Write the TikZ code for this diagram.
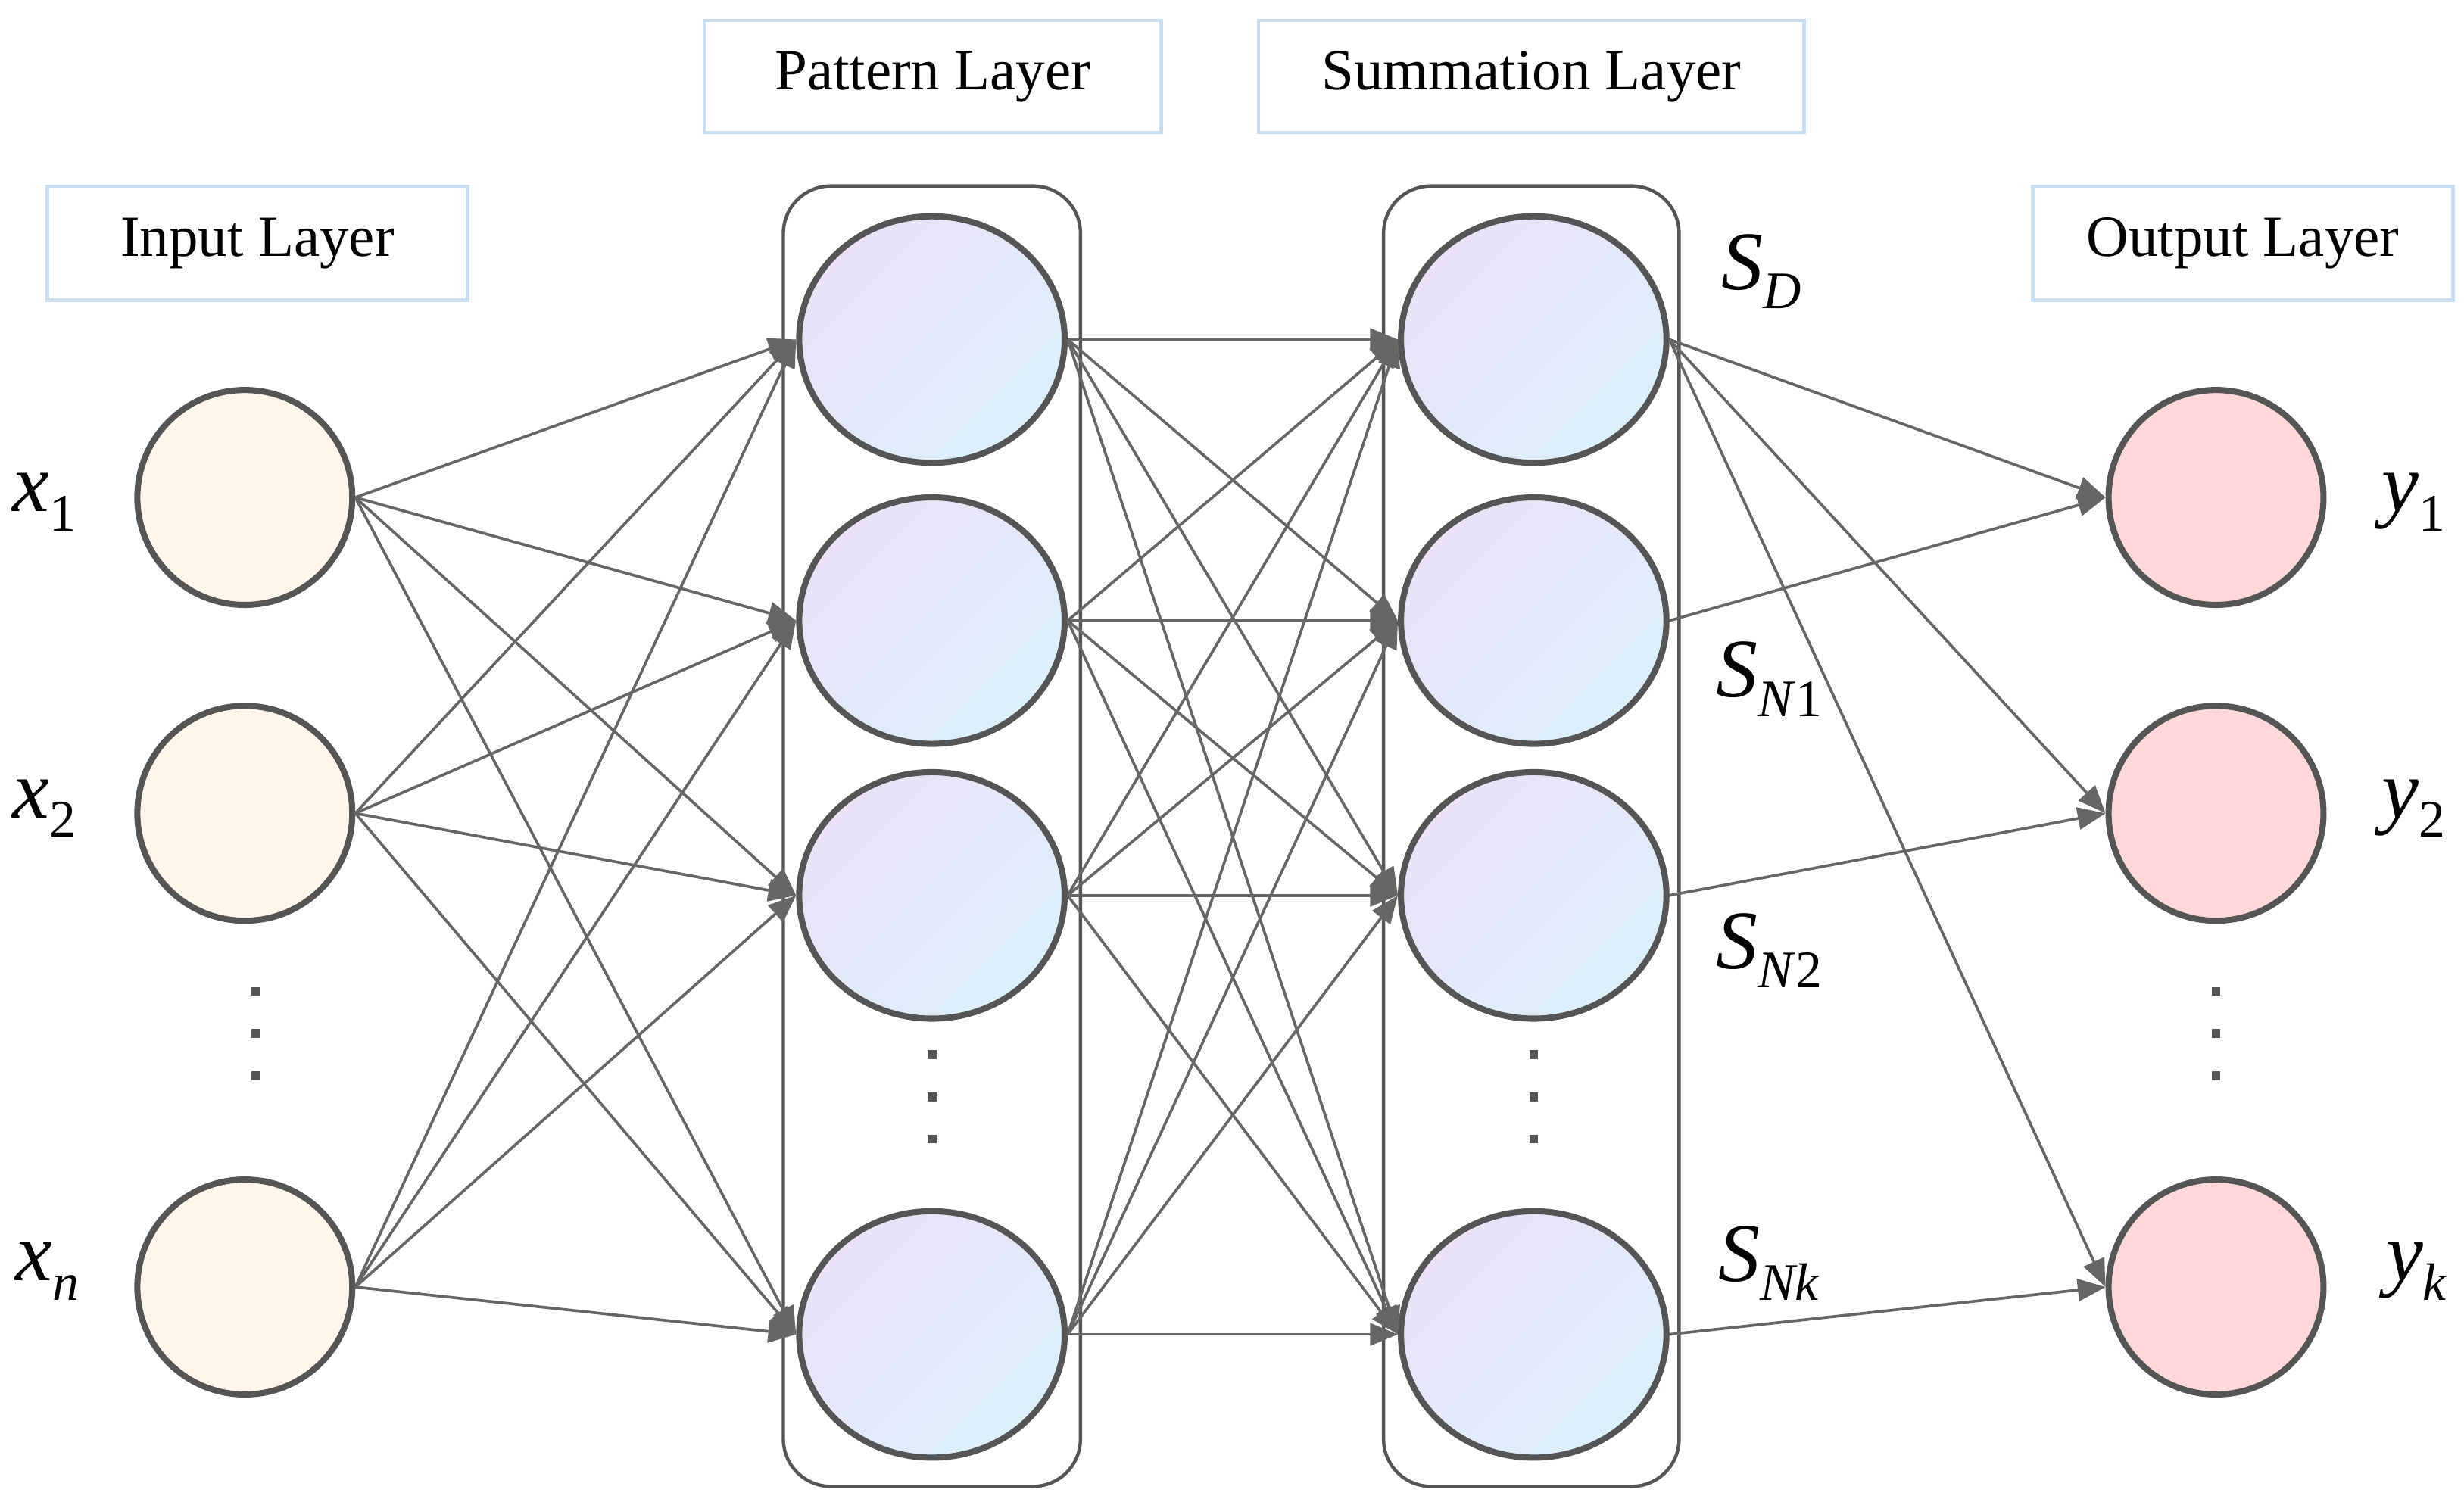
\documentclass[tikz,border=0pt]{standalone}
\usepackage{fontspec}
\setmainfont{Liberation Serif}
\usetikzlibrary{shapes.geometric,arrows.meta}
\definecolor{edge}{HTML}{555555}
\definecolor{lbl}{HTML}{C9DDF0}
\definecolor{lav}{HTML}{EAE2F7}
\definecolor{lbl2}{HTML}{DCF0FA}
\newcommand{\lbv}[3]{\textit{#1}\raisebox{-0.5ex}{\fontsize{#3}{#3}\selectfont #2}}
\begin{document}
\begin{tikzpicture}[x=0.01cm,y=-0.01cm,
  nd/.style={circle,draw=edge,line width=1.1pt,minimum size=1.36cm,inner sep=0},
  inp/.style={nd,fill=orange!8},
  outp/.style={nd,fill=red!15},
  mid/.style={ellipse,draw=edge,line width=1.1pt,minimum width=1.68cm,minimum height=1.56cm,inner sep=0,
     left color=lav,right color=lbl2,shading angle=45},
  box/.style={draw=edge,rounded corners=0.3cm,line width=0.6pt},
  lab/.style={draw=lbl,line width=0.6pt,font=\fontsize{10.5}{12}\selectfont,inner sep=0},
  cn/.style={draw=edge!90,line width=0.5pt,-{Triangle[length=5pt,width=4pt]}},
  ml/.style={font=\fontsize{15}{17}\selectfont},
  dt/.style={line width=1.6pt,edge,dash pattern=on 1.6pt off 6pt}]
\useasboundingbox (0,0) rectangle (1560,951);
\node[box,minimum width=1.88cm,minimum height=8.23cm] (pb) at (590,529.5) {};
\node[box,minimum width=1.87cm,minimum height=8.23cm] (sb) at (969.5,529.5) {};
\node[lab,minimum width=2.66cm,minimum height=0.72cm] (l1) at (163,154) {Input Layer};
\node[lab,minimum width=2.89cm,minimum height=0.71cm] (l2) at (590.5,48.5) {Pattern Layer};
\node[lab,minimum width=3.45cm,minimum height=0.71cm] (l3) at (969.5,48.5) {Summation Layer};
\node[lab,minimum width=2.66cm,minimum height=0.72cm] (l4) at (1420,154) {Output Layer};
\foreach \n/\y in {1/315,2/515,3/815}{
  \node[inp] (i\n) at (155,\y) {};
  \node[outp] (o\n) at (1403,\y) {};}
\foreach \n/\y in {1/215,2/393,3/567,4/845}{
  \node[mid] (p\n) at (590,\y) {};
  \node[mid] (s\n) at (971,\y) {};}
\foreach \a in {1,2,3}{\foreach \b in {1,2,3,4}{\draw[cn] (i\a.east) -- (p\b.west);}}
\foreach \a in {1,2,3,4}{\foreach \b in {1,2,3,4}{\draw[cn] (p\a.east) -- (s\b.west);}}
\foreach \b in {1,2,3}{\draw[cn] (s1.east) -- (o\b.west);}
\draw[cn] (s2.east) -- (o1.west);
\draw[cn] (s3.east) -- (o2.west);
\draw[cn] (s4.east) -- (o3.west);
\coordinate (d1a) at (162,625); \coordinate (d1b) at (162,697);
\coordinate (d2a) at (590,665); \coordinate (d2b) at (590,737);
\coordinate (d3a) at (971,665); \coordinate (d3b) at (971,737);
\coordinate (d4a) at (1403,625); \coordinate (d4b) at (1403,697);
\foreach \d in {1,2,3,4}{\draw[dt] (d\d a) -- (d\d b);}
\node[ml] (tx1) at (28,318) {\lbv{x}{1}{9.5}};
\node[ml] (tx2) at (28,512) {\lbv{x}{2}{9.5}};
\node[ml] (tx3) at (30,805) {\lbv{x}{\textit{n}}{9.5}};
\node[ml] (ty1) at (1528,318) {\lbv{y}{1}{9.5}};
\node[ml] (ty2) at (1528,512) {\lbv{y}{2}{9.5}};
\node[ml] (ty3) at (1530,805) {\lbv{y}{\textit{k}}{9.5}};
\node[ml] (tsd) at (1115,172) {\lbv{S}{\textit{D}}{9.5}};
\node[ml] (ts1) at (1120,430) {\lbv{S}{\textit{N}1}{9.5}};
\node[ml] (ts2) at (1120,602) {\lbv{S}{\textit{N}2}{9.5}};
\node[ml] (ts3) at (1120,800) {\lbv{S}{\textit{Nk}}{9.5}};
\end{tikzpicture}
\end{document}
